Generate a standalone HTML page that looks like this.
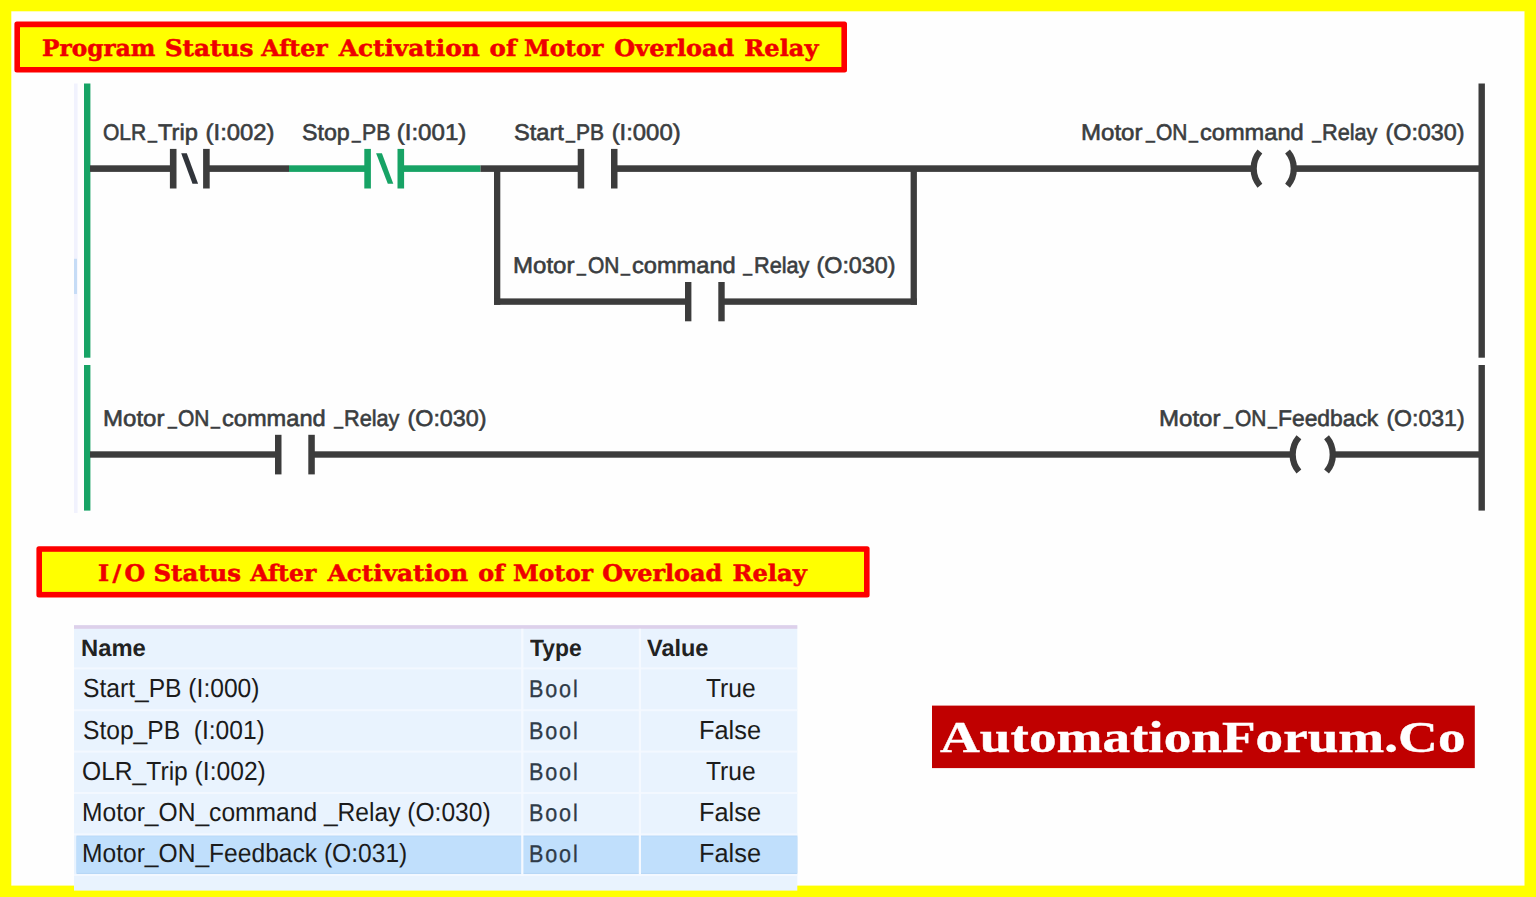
<!DOCTYPE html>
<html lang="en">
<head>
<meta charset="utf-8">
<title>Program Status After Activation of Motor Overload Relay</title>
<style>
  html, body { margin: 0; padding: 0; }
  body {
    width: 1536px; height: 897px; overflow: hidden; position: relative;
    background: #ffff00;
    font-family: "Liberation Sans", sans-serif;
  }
  .title, .lbl { text-rendering: geometricPrecision; }
  svg.gfx { position: absolute; left: 0; top: 0; }
  .title {
    position: absolute; left: 0; width: 1536px; white-space: pre;
    color: #ee0000; -webkit-text-stroke: 0.5px #ee0000;
    font-family: "DejaVu Serif", "Liberation Serif", serif; font-weight: bold;
    font-size: 22.8px; line-height: 1;
  }
  .lbl {
    position: absolute; left: 0; width: 1536px; white-space: pre; line-height: 1;
    font-family: "Liberation Sans", sans-serif; font-size: 22.7px;
    color: #3a3d40; -webkit-text-stroke: 0.6px #3a3d40;
  }
  .title span, .lbl span { display: inline-block; vertical-align: baseline; transform-origin: 0 0; white-space: pre; }
  .lbl .us { position: relative; top: -1.8px; }
  .c { position: absolute; white-space: pre; line-height: 1; transform-origin: 0 0; text-rendering: geometricPrecision; }
  .n { font-size: 26.2px; color: #1b1b1b; }
  .t { font-size: 24.0px; color: #2f3b48; -webkit-text-stroke: 0.3px #2f3b48; letter-spacing: 2.03px; transform: scaleX(0.9); }
  .h { font-size: 23.6px; font-weight: bold; color: #222; }
  .logo {
    position: absolute; left: 940.2px; top: 716px; white-space: pre; line-height: 1;
    font-family: "Liberation Serif", serif; font-weight: bold; font-size: 43.5px; color: #fff;
    -webkit-text-stroke: 0.4px #fff;
    transform-origin: 0 0; transform: scaleX(1.268);
  }
</style>
</head>
<body>
<svg class="gfx" width="1536" height="897" viewBox="0 0 1536 897">
<rect x="11.3" y="11.3" width="1513.2" height="874.3" fill="#fefefe"/>
<rect x="14.4" y="21.6" width="832.6" height="51" rx="2.5" fill="#fd0000"/>
<rect x="20" y="27.2" width="821.4" height="39.8" fill="#ffff00"/>
<rect x="36.4" y="546.2" width="833.2" height="51.3" rx="2.5" fill="#fd0000"/>
<rect x="42" y="551.8" width="822" height="40.1" fill="#ffff00"/>
<rect x="74" y="83.5" width="3.6" height="429.5" fill="#f1f2fd"/>
<rect x="74" y="258.8" width="3" height="35.2" fill="#c6dcf6"/>
<rect x="84" y="83.5" width="6.4" height="274.2" fill="#17a365"/>
<rect x="84" y="365" width="6.4" height="145.6" fill="#17a365"/>
<rect x="1478.5" y="83.5" width="6.4" height="274.2" fill="#3c3c3c"/>
<rect x="1478.5" y="365" width="6.4" height="145.6" fill="#3c3c3c"/>
<rect x="90" y="165.3" width="82" height="6.6" fill="#3c3c3c"/>
<rect x="207" y="165.3" width="82" height="6.6" fill="#3c3c3c"/>
<rect x="289" y="165.3" width="77" height="6.6" fill="#17a365"/>
<rect x="402" y="165.3" width="78.5" height="6.6" fill="#17a365"/>
<rect x="480.5" y="165.3" width="99.5" height="6.6" fill="#3c3c3c"/>
<rect x="615" y="165.3" width="637" height="6.6" fill="#3c3c3c"/>
<rect x="1295.5" y="165.3" width="184.5" height="6.6" fill="#3c3c3c"/>
<rect x="169.9" y="148.9" width="6.6" height="39.6" fill="#3c3c3c"/>
<rect x="203.1" y="148.9" width="6.6" height="39.6" fill="#3c3c3c"/>
<rect x="364.3" y="148.9" width="6.6" height="39.6" fill="#17a365"/>
<rect x="397.5" y="148.9" width="6.6" height="39.6" fill="#17a365"/>
<rect x="577.7" y="148.9" width="6.5" height="39.6" fill="#3c3c3c"/>
<rect x="611" y="148.9" width="6.5" height="39.6" fill="#3c3c3c"/>
<rect x="494" y="168" width="6.3" height="136.8" fill="#3c3c3c"/>
<rect x="910.6" y="168" width="6.3" height="136.8" fill="#3c3c3c"/>
<rect x="494" y="298.4" width="193" height="6.4" fill="#3c3c3c"/>
<rect x="722" y="298.4" width="194.9" height="6.4" fill="#3c3c3c"/>
<rect x="685" y="282" width="6.4" height="39.3" fill="#3c3c3c"/>
<rect x="718.3" y="282" width="6.4" height="39.3" fill="#3c3c3c"/>
<rect x="90" y="451.3" width="187" height="6.4" fill="#3c3c3c"/>
<rect x="312" y="451.3" width="979" height="6.4" fill="#3c3c3c"/>
<rect x="1334.5" y="451.3" width="145.5" height="6.4" fill="#3c3c3c"/>
<rect x="275" y="434.8" width="6.5" height="39.6" fill="#3c3c3c"/>
<rect x="308.3" y="434.8" width="6.5" height="39.6" fill="#3c3c3c"/>
<polygon points="181.2,153.3 186.8,153.3 198.1,183.8 192.5,183.8" fill="#30343a"/>
<polygon points="376.1,153.2 381.9,153.2 393.3,183.8 387.8,183.8" fill="#17a365"/>
<g fill="none" stroke="#3c3c3c" stroke-width="6.3"><path d="M 1259.90 151.50 A 26.5 26.5 0 0 0 1259.90 185.70"/><path d="M 1287.55 151.50 A 26.5 26.5 0 0 1 1287.55 185.70"/><path d="M 1298.90 437.30 A 26.5 26.5 0 0 0 1298.90 471.50"/><path d="M 1326.55 437.30 A 26.5 26.5 0 0 1 1326.55 471.50"/></g>
<rect x="74" y="625.2" width="723.3" height="265.4" fill="#e9f3fe"/>
<rect x="74" y="625.2" width="723.3" height="3.6" fill="#ddd0ea"/>
<rect x="76.5" y="835.3" width="720.8" height="38.7" fill="#b7d7f6"/>
<rect x="76.5" y="836.4" width="720.8" height="36.5" fill="#c0dffc"/>
<rect x="74" y="667.4" width="723.3" height="2" fill="#f3f8ff"/>
<rect x="74" y="709.2" width="723.3" height="2" fill="#f3f8ff"/>
<rect x="74" y="750.6" width="723.3" height="2" fill="#f3f8ff"/>
<rect x="74" y="792" width="723.3" height="2" fill="#f3f8ff"/>
<rect x="74" y="833.4" width="723.3" height="2" fill="#f3f8ff"/>
<rect x="74" y="874" width="723.3" height="2" fill="#f3f8ff"/>
<rect x="521.2" y="628.8" width="2.2" height="247.2" fill="#f5f9ff"/>
<rect x="638.8" y="628.8" width="2.2" height="247.2" fill="#f5f9ff"/>
<rect x="932" y="705.6" width="542.8" height="62.5" fill="#c00000"/>
</svg>

<div class="title" style="top:38px;"><span style="margin-left:41.74px; width:113.26px; transform:scaleX(1.019);">Program</span><span style="margin-left:0.55px; width:96.95px; transform:scaleX(1.088);"> Status</span><span style="margin-left:0.97px; width:75.73px; transform:scaleX(1.037);"> After</span><span style="margin-left:1.29px; width:149.51px; transform:scaleX(1.088);"> Activation</span><span style="margin-left:0.65px; width:37.65px; transform:scaleX(1.075);"> of</span><span style="margin-left:-1.82px; width:88.52px; transform:scaleX(1.017);"> Motor</span><span style="margin-left:0.85px; width:128.35px; transform:scaleX(1.051);"> Overload</span><span style="margin-left:1.58px; width:83.42px; transform:scaleX(1.055);"> Relay</span></div>

<div class="lbl" style="top:121.0px;"><span style="margin-left:103.40px; width:42.70px; transform:scaleX(0.927);">OLR</span><span class="us" style="margin-left:2.01px; width:9.39px; transform:scaleX(0.704);">_</span><span style="margin-left:1.04px; width:39.66px; transform:scaleX(1.043);">Trip</span><span style="margin-left:0.86px; width:74.64px; transform:scaleX(1.051);"> (I:002)</span></div>
<div class="lbl" style="top:121.0px;"><span style="margin-left:302.11px; width:47.19px; transform:scaleX(1.022);">Stop</span><span class="us" style="margin-left:2.38px; width:9.02px; transform:scaleX(0.676);">_</span><span style="margin-left:0.85px; width:28.15px; transform:scaleX(0.938);">PB</span><span style="margin-left:0.78px; width:75.42px; transform:scaleX(1.062);"> (I:001)</span></div>
<div class="lbl" style="top:121.0px;"><span style="margin-left:513.69px; width:50.21px; transform:scaleX(1.042);">Start</span><span class="us" style="margin-left:2.01px; width:9.39px; transform:scaleX(0.704);">_</span><span style="margin-left:1.17px; width:27.83px; transform:scaleX(0.927);">PB</span><span style="margin-left:1.15px; width:74.75px; transform:scaleX(1.052);"> (I:000)</span></div>
<div class="lbl" style="top:121.0px;"><span style="margin-left:1081.27px; width:61.63px; transform:scaleX(1.060);">Motor</span><span class="us" style="margin-left:2.80px; width:9.30px; transform:scaleX(0.697);">_</span><span style="margin-left:1.50px; width:30.50px; transform:scaleX(0.924);">ON</span><span class="us" style="margin-left:2.51px; width:9.39px; transform:scaleX(0.704);">_</span><span style="margin-left:1.40px; width:103.10px; transform:scaleX(1.041);">command</span><span class="us" style="margin-left:4.34px; width:13.86px; transform:scaleX(0.693);"> _</span><span style="margin-left:0.63px; width:55.77px; transform:scaleX(0.956);">Relay</span><span style="margin-left:1.01px; width:84.69px; transform:scaleX(1.028);"> (O:030)</span></div>
<div class="lbl" style="top:254.0px;"><span style="margin-left:512.77px; width:61.63px; transform:scaleX(1.060);">Motor</span><span class="us" style="margin-left:2.80px; width:9.30px; transform:scaleX(0.697);">_</span><span style="margin-left:1.50px; width:30.50px; transform:scaleX(0.924);">ON</span><span class="us" style="margin-left:2.51px; width:9.39px; transform:scaleX(0.704);">_</span><span style="margin-left:1.40px; width:103.10px; transform:scaleX(1.041);">command</span><span class="us" style="margin-left:4.34px; width:13.86px; transform:scaleX(0.693);"> _</span><span style="margin-left:0.63px; width:55.77px; transform:scaleX(0.956);">Relay</span><span style="margin-left:1.01px; width:84.69px; transform:scaleX(1.028);"> (O:030)</span></div>
<div class="lbl" style="top:407.0px;"><span style="margin-left:103.17px; width:61.63px; transform:scaleX(1.060);">Motor</span><span class="us" style="margin-left:2.80px; width:9.30px; transform:scaleX(0.697);">_</span><span style="margin-left:1.50px; width:30.50px; transform:scaleX(0.924);">ON</span><span class="us" style="margin-left:2.51px; width:9.39px; transform:scaleX(0.704);">_</span><span style="margin-left:1.40px; width:103.10px; transform:scaleX(1.041);">command</span><span class="us" style="margin-left:4.34px; width:13.86px; transform:scaleX(0.693);"> _</span><span style="margin-left:0.63px; width:55.77px; transform:scaleX(0.956);">Relay</span><span style="margin-left:1.01px; width:84.69px; transform:scaleX(1.028);"> (O:030)</span></div>
<div class="lbl" style="top:407.0px;"><span style="margin-left:1159.47px; width:61.63px; transform:scaleX(1.060);">Motor</span><span class="us" style="margin-left:2.80px; width:9.30px; transform:scaleX(0.697);">_</span><span style="margin-left:1.50px; width:30.50px; transform:scaleX(0.924);">ON</span><span class="us" style="margin-left:2.51px; width:9.39px; transform:scaleX(0.704);">_</span><span style="margin-left:0.55px; width:100.65px; transform:scaleX(1.006);">Feedback</span><span style="margin-left:1.60px; width:83.70px; transform:scaleX(1.017);"> (O:031)</span></div>

<div class="title" style="top:563px;"><span style="margin-left:97.53px; width:46.67px; transform:scaleX(1.040); letter-spacing:3.30px;">I/O</span><span style="margin-left:1.20px; width:95.40px; transform:scaleX(1.070);"> Status</span><span style="margin-left:1.42px; width:75.28px; transform:scaleX(1.031);"> After</span><span style="margin-left:1.82px; width:148.98px; transform:scaleX(1.084);"> Activation</span><span style="margin-left:1.82px; width:36.58px; transform:scaleX(1.045);"> of</span><span style="margin-left:-1.35px; width:88.85px; transform:scaleX(1.021);"> Motor</span><span style="margin-left:0.35px; width:128.35px; transform:scaleX(1.051);"> Overload</span><span style="margin-left:1.64px; width:83.76px; transform:scaleX(1.059);"> Relay</span></div>

<div class="c h" style="left:80.6px; top:638px; transform:scaleX(1.008);">Name</div>
<div class="c h" style="left:529.8px; top:638px; transform:scaleX(0.969);">Type</div>
<div class="c h" style="left:647.3px; top:638px; transform:scaleX(0.996);">Value</div>
<div class="c n" style="left:82.6px; top:675px; transform:scaleX(0.940);">Start_PB (I:000)</div>
<div class="c t" style="left:528.9px; top:678px;">Bool</div>
<div class="c n" style="left:706.0px; top:675px; transform:scaleX(0.938);">True</div>
<div class="c n" style="left:82.6px; top:717px; transform:scaleX(0.939);">Stop_PB  (I:001)</div>
<div class="c t" style="left:528.9px; top:720px;">Bool</div>
<div class="c n" style="left:699.3px; top:717px; transform:scaleX(0.968);">False</div>
<div class="c n" style="left:82.3px; top:758px; transform:scaleX(0.940);">OLR_Trip (I:002)</div>
<div class="c t" style="left:528.9px; top:761px;">Bool</div>
<div class="c n" style="left:706.0px; top:758px; transform:scaleX(0.938);">True</div>
<div class="c n" style="left:81.7px; top:799px; transform:scaleX(0.939);">Motor_ON_command _Relay (O:030)</div>
<div class="c t" style="left:528.9px; top:802px;">Bool</div>
<div class="c n" style="left:699.3px; top:799px; transform:scaleX(0.968);">False</div>
<div class="c n" style="left:81.7px; top:840px; transform:scaleX(0.939);">Motor_ON_Feedback (O:031)</div>
<div class="c t" style="left:528.9px; top:843px;">Bool</div>
<div class="c n" style="left:699.3px; top:840px; transform:scaleX(0.968);">False</div>

<div class="logo">AutomationForum.Co</div>
</body>
</html>
